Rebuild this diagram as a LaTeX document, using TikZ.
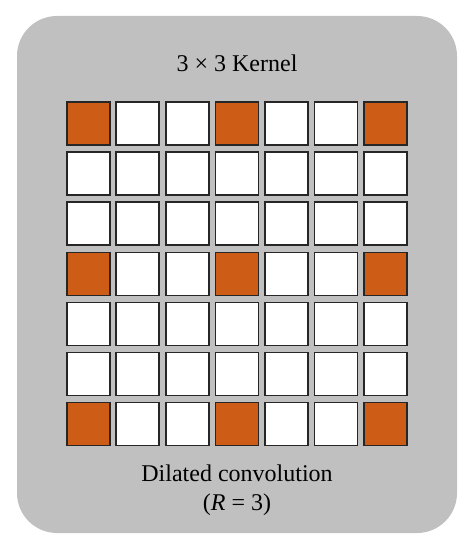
\documentclass[tikz,border=0pt]{standalone}
\usepackage{fontspec}
\setmainfont{Liberation Serif}
\usetikzlibrary{positioning}
\definecolor{kernelorange}{RGB}{204,92,22}
\definecolor{panelgray}{RGB}{192,192,192}
\tikzset{every picture/.style={line width=0.75pt}}

\begin{document}
\begin{tikzpicture}[x=0.75pt,y=0.75pt,yscale=-1,xscale=1,
  cell/.style={draw=black!85, line width=1.2pt, minimum size=32.25pt, inner sep=0pt},
  txt/.style={font=\fontsize{18}{21.5}\selectfont, inner sep=0.75pt}]

\useasboundingbox (0,0) rectangle (474,549);

%Shape: Rounded panel
\fill[panelgray, rounded corners=30pt] (17,16) rectangle (457,533);

%Grid of cells, kernel taps every third cell
\foreach \row in {0,...,6}{
  \foreach \col in {0,...,6}{
    \pgfmathtruncatemacro\k{mod(\row,3)+mod(\col,3)}
    \ifnum\k=0 \def\fillc{kernelorange}\else\def\fillc{white}\fi
    \node[cell, fill=\fillc] (c-\row-\col) at (88.2+49.55*\col, 123.5+50.1*\row) {};
  }
}

% Text Node
\node[txt] (title) at (237,63) {3 × 3 Kernel};
% Text Node
\node[txt, align=center] (caption) at (237,490) {Dilated convolution\\(\textit{R} = 3)};
\end{tikzpicture}
\end{document}
